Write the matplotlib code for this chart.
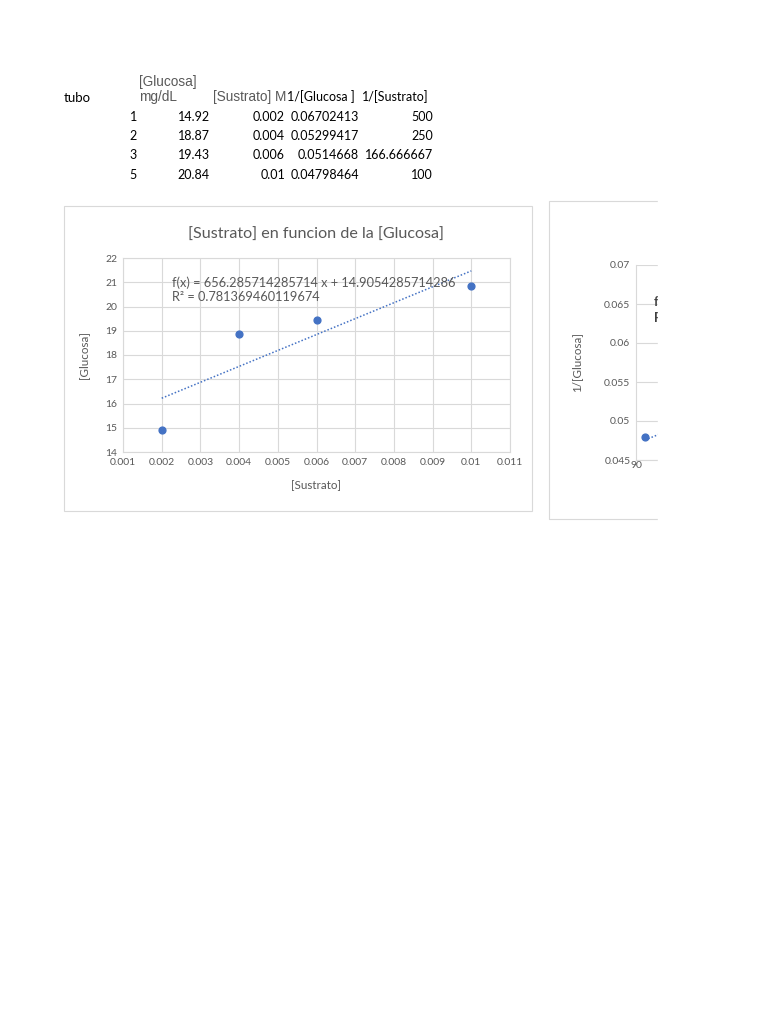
import matplotlib.pyplot as plt
from matplotlib.patches import Rectangle
from fractions import Fraction
import numpy as np

# table values
tubo = [1, 2, 3, 5]
glucosa = [14.92, 18.87, 19.43, 20.84]
sustrato = [0.002, 0.004, 0.006, 0.01]
inv_glucosa = [0.06702413, 0.05299417, 0.0514668, 0.04798464]
inv_sustrato = [500, 250, 166.666667, 100]

header_gray = "#595959"
grid_gray = "#d9d9d9"
blue = "#4472c4"
W, H = 768, 1024


def fx(px):
    return px / W


def fy(py):
    return 1 - py / H


def linfit(x, y):
    # exact least squares, so the printed digits come out like the sheet's
    x = [Fraction(str(v)) for v in x]
    y = [Fraction(str(v)) for v in y]
    n = len(x)
    mx, my = sum(x) / n, sum(y) / n
    sxy = sum((a - mx) * (b - my) for a, b in zip(x, y))
    sxx = sum((a - mx) ** 2 for a in x)
    syy = sum((b - my) ** 2 for b in y)
    m = sxy / sxx
    return float(m), float(my - m * mx), float(sxy * sxy / (sxx * syy))


def main():
    fig = plt.figure(figsize=(7.68, 10.24), dpi=100)
    body = "Lato"
    tfs = 9.0

    # ---- spreadsheet cells ----
    fig.text(fx(64), fy(98), "tubo", fontsize=9.5, family=body, va="center")
    fig.text(fx(139), fy(82), "[Glucosa]", fontsize=9.8, family="Liberation Sans",
             color=header_gray, va="center")
    fig.text(fx(139), fy(97), "mg/dL", fontsize=9.8, family="Liberation Sans",
             color=header_gray, va="center")
    fig.text(fx(213), fy(97), "[Sustrato] M", fontsize=9.8, family="Liberation Sans",
             color=header_gray, va="center")
    fig.text(fx(287), fy(97), "1/[Glucosa ]", fontsize=tfs, family=body, va="center")
    fig.text(fx(362), fy(97), "1/[Sustrato]", fontsize=tfs, family=body, va="center")

    row_y = [117, 136, 155, 175]
    cols = [(137, tubo), (210, glucosa), (285, sustrato), (359, inv_glucosa),
            (433, inv_sustrato)]
    for i, y in enumerate(row_y):
        for x, vals in cols:
            fig.text(fx(x), fy(y), str(vals[i]), fontsize=tfs, family=body,
                     ha="right", va="center")

    # ---- chart boxes ----
    fig.patches.append(Rectangle((fx(64), fy(511)), fx(468), 305 / H,
                                 transform=fig.transFigure, fill=False,
                                 edgecolor=grid_gray, lw=0.8))
    fig.patches.append(Rectangle((fx(549), fy(519)), fx(300), 318 / H,
                                 transform=fig.transFigure, fill=False,
                                 edgecolor=grid_gray, lw=0.8))

    # ---- chart 1 ----
    ax = fig.add_axes([fx(123), fy(452), fx(387), 194 / H])
    ax.scatter(sustrato, glucosa, s=24, color=blue, zorder=3)
    m, b, r2 = linfit(sustrato, glucosa)
    xs = np.array([min(sustrato), max(sustrato)])
    ax.plot(xs, m * xs + b, color=blue, ls=(0, (1, 1.3)), lw=1.1, zorder=2)
    ax.set_xlim(0.001, 0.011)
    ax.set_ylim(14, 22)
    xt = np.round(np.arange(0.001, 0.0111, 0.001), 3)
    ax.set_xticks(xt)
    ax.set_xticklabels([f"{v:g}" for v in xt])
    ax.set_yticks(range(14, 23))
    ax.grid(True, color=grid_gray, lw=0.8)
    ax.set_axisbelow(True)
    for s in ax.spines.values():
        s.set_color(grid_gray)
        s.set_linewidth(0.8)
    ax.tick_params(length=0, labelsize=7.5, labelcolor=header_gray, pad=4)
    for t in ax.get_xticklabels() + ax.get_yticklabels():
        t.set_family(body)
    ax.set_title("[Sustrato] en funcion de la [Glucosa]", fontsize=11.6,
                 family=body, color=header_gray, pad=14)
    ax.set_xlabel("[Sustrato]", fontsize=8.4, family=body, color=header_gray, labelpad=10)
    ax.set_ylabel("[Glucosa]", fontsize=8.4, family=body, color=header_gray, labelpad=12)
    ax.text(0.00227, 21.0, f"f(x) = {m:.15g} x + {b:.15g}", fontsize=9.2, family=body,
            color=header_gray, va="center")
    ax.text(0.00227, 20.4, f"R² = {r2:.15g}", fontsize=9.2, family=body,
            color=header_gray, va="center")

    # ---- chart 2 (cut off at the page edge) ----
    ax2 = fig.add_axes([fx(636), fy(460), fx(22), 195 / H])
    ax2.scatter(inv_sustrato, inv_glucosa, s=24, color=blue, zorder=3)
    m2, b2, r22 = linfit(inv_sustrato, inv_glucosa)
    xs2 = np.array([min(inv_sustrato), max(inv_sustrato)])
    ax2.plot(xs2, m2 * xs2 + b2, color=blue, ls=(0, (1, 1.3)), lw=1.1, zorder=2)
    ax2.set_xlim(90, 90 + 22 / 0.9)
    ax2.set_ylim(0.045, 0.07)
    ax2.set_xticks([90])
    ax2.set_yticks([0.045, 0.05, 0.055, 0.06, 0.065, 0.07])
    ax2.set_yticklabels(["0.045", "0.05", "0.055", "0.06", "0.065", "0.07"])
    ax2.yaxis.grid(True, color=grid_gray, lw=0.8)
    ax2.set_axisbelow(True)
    for k, s in ax2.spines.items():
        s.set_visible(k in ("left", "bottom"))
        s.set_color(grid_gray)
        s.set_linewidth(0.8)
    ax2.tick_params(length=0, labelsize=7.5, labelcolor=header_gray, pad=4)
    ax2.tick_params(axis="x", pad=1)
    for t in ax2.get_xticklabels() + ax2.get_yticklabels():
        t.set_family(body)
    ax2.set_ylabel("1/[Glucosa]", fontsize=8.4, family=body, color=header_gray, labelpad=16)
    ax2.text(110, 0.0653, f"f(x) = {m2:.15g} x + {b2:.15g}", fontsize=9.2,
             family=body, color="#404040", weight="bold", va="center", clip_on=True)
    ax2.text(110, 0.0632, f"R² = {r22:.15g}", fontsize=9.2, family=body,
             color="#404040", weight="bold", va="center", clip_on=True)

    # page edge
    fig.patches.append(Rectangle((fx(658), 0), 1, 1, transform=fig.transFigure,
                                 color="white", zorder=10))

    fig.savefig("out.png", dpi=100)
    return fig


if __name__ == "__main__":
    main()
